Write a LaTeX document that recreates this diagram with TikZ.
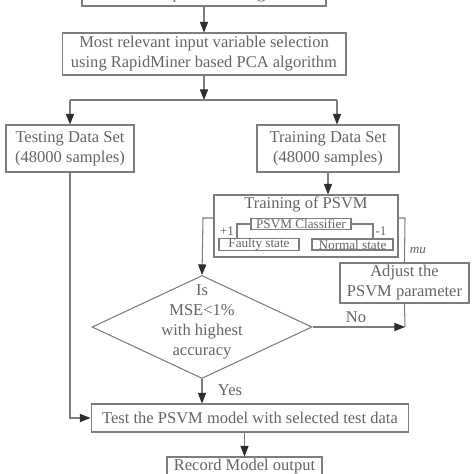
\documentclass[tikz,border=0pt]{standalone}
\usepackage{fontspec}
\setmainfont{Liberation Serif}
\usetikzlibrary{arrows.meta,shapes.geometric}
\definecolor{linegray}{RGB}{125,125,125}
\definecolor{textgray}{RGB}{100,100,100}
\definecolor{tipgray}{RGB}{45,45,45}
\begin{document}
\begin{tikzpicture}[x=0.02cm,y=-0.02cm,
    box/.style={draw=linegray,line width=0.6pt,inner sep=0pt,text=textgray,
      align=center,font=\fontsize{9.4}{11.4}\selectfont},
    smallbox/.style={box,font=\fontsize{7.5}{9}\selectfont},
    decision/.style={diamond,draw=linegray,line width=0.6pt,inner sep=0pt,
      minimum width=4.4cm,minimum height=2.06cm},
    txt/.style={text=textgray,inner sep=0pt,align=center,
      font=\fontsize{9.4}{11.4}\selectfont},
    small/.style={txt,font=\fontsize{7.5}{9}\selectfont},
    arr/.style={-{Triangle[length=6pt,width=4.6pt,color=tipgray]}}]
      \useasboundingbox (0,0) rectangle (474,474);
      \draw
        (204,-15) node[box,minimum width=4.88cm,minimum height=0.84cm] (dwt)
          {Data pre-processing\\and decomposition using DWT}
        (204,54) node[box,minimum width=5.68cm,minimum height=0.84cm] (pca)
          {Most relevant input variable selection\\using RapidMiner based PCA algorithm}
        (70,148.5) node[box,minimum width=2.56cm,minimum height=0.94cm] (testing)
          {Testing Data Set\\(48000 samples)}
        (328,148.5) node[box,minimum width=2.84cm,minimum height=0.94cm] (training)
          {Training Data Set\\(48000 samples)}
        (306,226) node[box,minimum width=3.68cm,minimum height=1.24cm] (psvm) {}
        (306,204) node[txt] (psvmtitle) {Training of PSVM}
        (301,224) node[smallbox,minimum width=2cm,minimum height=0.21cm] (clf)
          {PSVM Classifier}
        (259,244.5) node[smallbox,minimum width=1.6cm,minimum height=0.22cm] (faulty)
          {Faulty state}
        (352.5,244.5) node[smallbox,minimum width=1.62cm,minimum height=0.22cm] (normal)
          {Normal state}
        (202,327) node[decision] (dec) {}
        (202,322) node[txt] (dectext) {Is\\MSE<1\%\\with highest\\accuracy}
        (404.5,283) node[box,minimum width=2.58cm,minimum height=0.8cm] (adjust)
          {Adjust the\\PSVM parameter}
        (250,418) node[box,minimum width=6.36cm,minimum height=0.56cm] (test)
          {Test the PSVM model with selected test data}
        (244.5,467) node[box,minimum width=3.1cm,minimum height=0.4cm] (record)
          {Record Model output};
      \coordinate (sl) at (70,100);
      \coordinate (sr) at (337,100);
      \coordinate (pl) at (203,218);
      \coordinate (pr) at (405,218);
      \coordinate (cl) at (237,224);
      \coordinate (cr) at (373,224);
      \coordinate (nc) at (405,327);
      \begin{scope}[linegray,line width=0.6pt]
        \draw[arr] (dwt.south) -- (pca.north);
        \draw[arr] (pca.south) -- (pca.south |- sl);
        \draw (sl) -- (sr);
        \draw[arr] (sl) -- (testing.north);
        \draw[arr] (sr) -- (sr |- training.north);
        \draw[arr] (training.south) -- (training.south |- psvm.north);
        \draw (clf.west) -- (cl) -- (cl |- faulty.north);
        \draw (clf.east) -- (cr) -- (cr |- normal.north);
        \draw[arr] (psvm.west |- pl) -- (pl) -- (dec.north);
        \draw (psvm.east |- pr) -- (pr) -- (adjust.north);
        \draw (adjust.south) -- (nc);
        \draw[arr] (dec.east) -- (nc);
        \draw[arr] (dec.south) -- (test.north -| dec.south);
        \draw[arr] (testing.south) |- (test.west);
        \draw[arr] (record.north |- test.south) -- (record.north);
      \end{scope}
      \node[small] (plus) at (227,231) {+1};
      \node[small] (minus) at (381,231) {-1};
      \node[small] (mu) at (418,250) {\itshape mu};
      \node[txt] (no) at (356,317) {No};
      \node[txt] (yes) at (230,390) {Yes};
    \end{tikzpicture}
\end{document}
